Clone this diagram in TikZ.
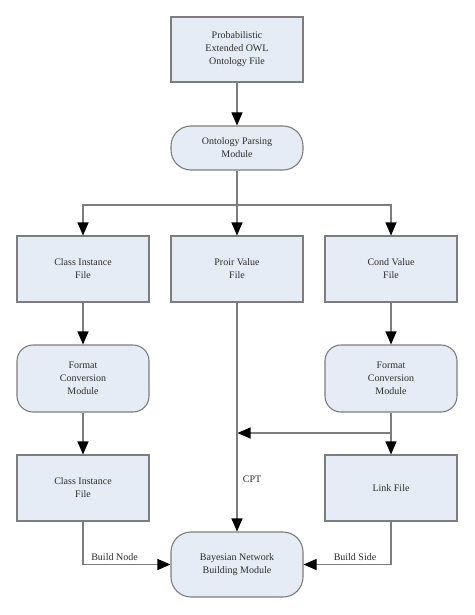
\documentclass[tikz,border=0pt]{standalone}
\usepackage{fontspec}
\setmainfont{Liberation Serif}
\usetikzlibrary{arrows.meta,positioning}
\definecolor{boxfill}{RGB}{230,236,246}
\definecolor{boxline}{RGB}{125,125,125}
\definecolor{txt}{RGB}{45,45,45}
\begin{document}
\begin{tikzpicture}[x=1pt,y=-1pt,
  base/.style={draw=boxline,line width=1.1pt,fill=boxfill,text=txt,align=center,
    font=\fontsize{10}{13}\selectfont,minimum width=132pt,inner sep=2pt},
  filebox/.style={base,rectangle,minimum height=66pt},
  modbox/.style={base,rectangle,rounded corners=20pt,minimum height=65pt},
  conn/.style={draw=boxline,line width=1.1pt},
  arr/.style={conn,-{Triangle[length=13pt,width=11pt,fill=black,color=black]}},
  lbl/.style={text=txt,font=\fontsize{10}{13}\selectfont,inner sep=1pt}]
\useasboundingbox (0,0) rectangle (474,615);
\fill[white] (0,0) rectangle (474,615);
\node[filebox,minimum height=65pt] (top) at (237,49.5) {Probabilistic\\Extended OWL\\Ontology File};
\node[modbox,minimum height=44pt] (parse) at (237,148) {Ontology Parsing\\Module};
\node[filebox] (ci) at (83,269) {Class Instance\\File};
\node[filebox] (pv) at (237,269) {Proir Value\\File};
\node[filebox] (cv) at (391,269) {Cond Value\\File};
\node[modbox,rounded corners=16pt,minimum height=67pt] (fc1) at (83,378.5) {Format\\Conversion\\Module};
\node[modbox,rounded corners=16pt,minimum height=67pt] (fc2) at (391,378.5) {Format\\Conversion\\Module};
\node[filebox] (ci2) at (83,488) {Class Instance\\File};
\node[filebox] (lf) at (391,488) {Link File};
\node[modbox] (bn) at (237,564.5) {Bayesian Network\\Building Module};
\coordinate (j) at (237,205);
\coordinate (k1) at (391,433);
\coordinate (k2) at (237.5,433);
\draw[arr] (top) -- (parse);
\draw[conn] (parse) -- (j);
\draw[arr] (j) -| (ci.north);
\draw[arr] (j) -- (pv.north);
\draw[arr] (j) -| (cv.north);
\draw[arr] (ci) -- (fc1);
\draw[arr] (fc1) -- (ci2);
\draw[arr] (cv) -- (fc2);
\draw[arr] (fc2) -- (lf);
\draw[arr] (k1) -- (k2);
\draw[arr] (pv) -- (bn);
\draw[arr] (ci2.south) |- (bn.west);
\draw[arr] (lf.south) |- (bn.east);
\node[lbl] (cpt) at (252,479) {CPT};
\node[lbl] (bnode) at (114.5,557) {Build Node};
\node[lbl] (bside) at (355,557) {Build Side};
\end{tikzpicture}
\end{document}
